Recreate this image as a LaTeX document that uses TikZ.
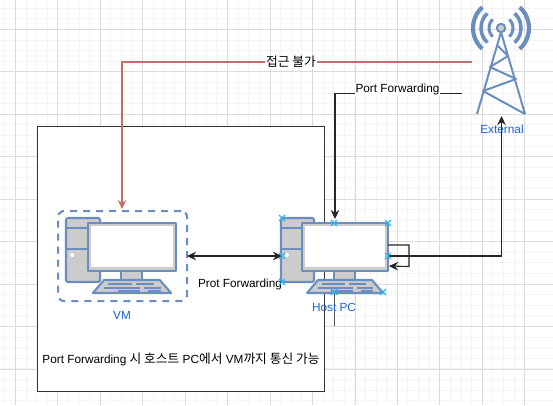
\documentclass[tikz,border=0pt]{standalone}
\usepackage{fontspec}
\setmainfont{Liberation Sans}
\newfontfamily\kr[Scale=1.08]{Noto Sans CJK KR}
\usetikzlibrary{arrows.meta}
\definecolor{strk}{HTML}{6C8EBF}
\definecolor{gry}{HTML}{CCCCCC}
\definecolor{redl}{HTML}{B85450}
\definecolor{sel}{HTML}{29B6F2}
\definecolor{lbl}{HTML}{1A62D6}
\tikzset{
  x=1pt,y=-1pt,
  part/.style={draw=strk,line width=2.1pt,fill=gry,line join=round},
  wire/.style={draw=black!85,line width=1.3pt},
  tip/.style={-{Stealth[length=9pt,width=8.5pt]}},
  txt/.style={font=\fontsize{11.8}{14}\selectfont,inner sep=1pt},
  bluetxt/.style={txt,text=lbl},
  cutout/.style={txt,fill=white},
  pt/.style={inner sep=0pt,minimum size=0pt},
  computer/.pic={
    \draw[part,rounded corners=2pt] (0,0) rectangle (33,64);
    \draw[strk,line width=2.1pt] (0,10) -- (21,10) (0,31) -- (21,31);
    \fill[white] (6,37) circle (2);
    \draw[part] (53,53) rectangle (74,62);
    \draw[part] (37,62) -- (91,62) -- (102,75) -- (26,75) -- cycle;
    \draw[strk,line width=1.4pt] (41,66) -- (64,66) (68,66) -- (85,66) (37,70) -- (72,70) (76,70) -- (92,70) (50,73) -- (72,73) (80,73) -- (92,73);
    \draw[part] (21,5) rectangle (107,53);
    \fill[white] (24,8) rectangle (104,49);
  },
  tickcross/.style={sel,line width=1.2pt}
}
\begin{document}
\begin{tikzpicture}
\useasboundingbox (0,0) rectangle (553,405);
\fill[white] (0,0) rectangle (553,405);
% grid
\foreach \i in {-1,...,48}{
  \draw[black!4,line width=.8pt] ({15.3+10.61*\i},0) -- ({15.3+10.61*\i},405);
  \draw[black!4,line width=.8pt] (0,{8.1+10.61*\i}) -- (553,{8.1+10.61*\i});
}
\foreach \i in {0,...,12}{
  \draw[black!14,line width=.8pt] ({15.3+42.45*\i},0) -- ({15.3+42.45*\i},405);
}
\foreach \i in {0,...,9}{
  \draw[black!14,line width=.8pt] (0,{29.3+42.45*\i}) -- (553,{29.3+42.45*\i});
}
% frame
\node[draw=black!80,line width=1.3pt,fill=white,minimum width=287pt,minimum height=265pt,inner sep=0pt,anchor=north west] (frame) at (37,126) {};
\node[txt] (note) at (181,359) {Port Forwarding {\kr 시 호스트} PC{\kr 에서} VM{\kr 까지 통신 가능}};
% anchors
\coordinate (hostleft) at (282,256);
\coordinate (hosttop) at (335,219);
\coordinate (hostright) at (388,256);
\coordinate (loopout) at (388,245);
\coordinate (loopin) at (389,266);
\coordinate (hostbot) at (334.5,293);
\coordinate (stub) at (334.5,326);
\draw[draw=black!65,line width=1.1pt] (hostbot) -- (stub);
% computers
\pic[xscale=1.03] (vmpc) at (66,218) {computer};
\pic (hostpc) at (281,218) {computer};
\node[draw=strk,line width=2.1pt,dash pattern=on 7pt off 6pt,rounded corners=6pt,minimum width=129pt,minimum height=90pt,inner sep=0pt,anchor=north west] (vmsel) at (57,210) {};
\node[bluetxt] (vmlabel) at (122,315) {VM};
\node[bluetxt] (hostlabel) at (334,307) {Host PC};
% tower
\node[pt] (ant) at (501,28) {};
\draw[strk,line width=2pt,line join=round] (501,32) -- (477,114) (501,32) -- (525,114)
  (497,45) -- (508,56) -- (490,67) -- (516,79) -- (483,91) -- (525,114);
\foreach \r/\w/\a in {12/3/46,20/3.6/47,28/4.2/48}{
  \draw[strk,line width=\w pt] (ant.center) ++({180-\a}:\r) arc[start angle=180-\a,end angle=180+\a,radius=\r];
  \draw[strk,line width=\w pt] (ant.center) ++(\a:\r) arc[start angle=\a,end angle=-\a,radius=\r];
}
\draw[strk,line width=2pt,fill=gry] (ant.center) circle (4.2);
\node[bluetxt] (extlabel) at (502,129) {External};
\coordinate (extbot) at (501.5,116);
\coordinate (extred) at (472,62);
\coordinate (extblk) at (462,93.5);
\coordinate (vmtop) at (122,209);
\coordinate (vmright) at (187,256);
% connectors
\draw[draw=redl!85,line width=1.3pt,tip] (extred) -- (122,62) -- (vmtop);
\node[cutout] (nolabel) at (291,62) {\kr 접근 불가};
\draw[wire,tip] (extblk) -- (335,93.5) -- (hosttop);
\node[cutout,inner sep=0.5pt] (pflabel) at (397.5,89.5) {Port Forwarding};
\draw[wire,{Stealth[length=9pt,width=8.5pt]}-{Stealth[length=9pt,width=8.5pt]}] (vmright) -- (hostleft);
\node[txt] (prot) at (240,284) {Prot Forwarding};
\draw[wire,line width=1.1pt,tip] (loopout) -- (409,245) -- (409,266.5) -- (loopin);
\draw[wire,tip] (hostright) -- (501.5,256) -- (extbot);
% selection marks
\foreach \p in {(282,218),(282,256),(282,282),(334,223),(388,223),(388,256),(334,292),(383,292)}{
  \draw[tickcross] \p ++(-3,-3) -- ++(6,6) \p ++(-3,3) -- ++(6,-6);
}
\end{tikzpicture}
\end{document}
